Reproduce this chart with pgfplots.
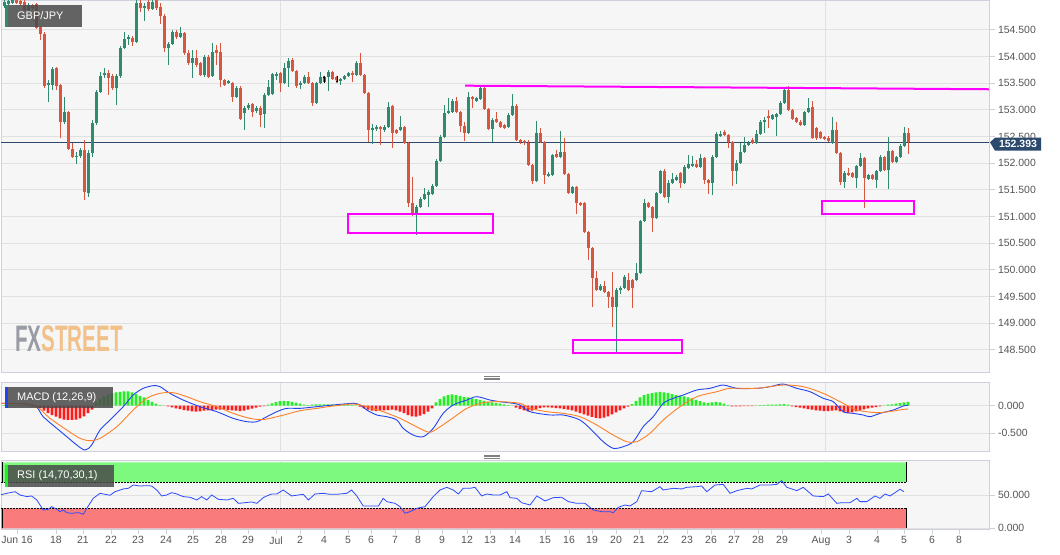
\documentclass[border=0pt]{standalone}
\usepackage{fontspec}
\setmainfont{Liberation Sans}
\usepackage{pgfplots}
\pgfplotsset{compat=1.18}
\usepackage{pgfplotstable}
\usetikzlibrary{arrows.meta}

\definecolor{panelbg}{HTML}{F6F6F6}
\definecolor{gridc}{HTML}{E1E1E1}
\definecolor{bordc}{HTML}{CDD1DD}
\definecolor{labc}{HTML}{555555}
\definecolor{cgreen}{HTML}{2F8A6E}
\definecolor{cred}{HTML}{D8553F}
\definecolor{pricec}{HTML}{2C4A6E}
\definecolor{hgreen}{HTML}{22EE22}
\definecolor{hred}{HTML}{FF1A1A}
\definecolor{macdblue}{HTML}{2244EE}
\definecolor{sigorange}{HTML}{FF7F27}
\definecolor{rsiblue}{HTML}{2A4BFF}
\definecolor{rsigreen}{HTML}{7DFA7D}
\definecolor{rsired}{HTML}{F97B7B}
\definecolor{boxc}{HTML}{4A4A4A}
\definecolor{fxgray}{HTML}{9A9CA5}
\definecolor{fxorange}{HTML}{F1C189}
\definecolor{pinkline}{HTML}{FF00FF}

\newcommand{\ticksize}{\fontsize{10.5}{12}\selectfont}

% 4h candles, i = candle index (open high low close)
\pgfplotstableread{
i o h l c
0 154.95 155.06 154.91 155.02
1 154.99 155.06 154.97 155.04
2 155.00 155.10 154.99 155.06
3 155.06 155.10 154.99 155.00
4 155.04 155.08 154.95 154.99
5 155.02 155.06 154.85 154.87
6 154.87 155.00 154.85 154.97
7 154.97 154.99 154.87 154.91
8 154.99 155.00 154.52 154.535
9 154.55 154.57 154.31 154.42
10 154.42 154.46 153.41 153.45
11 153.47 153.56 153.15 153.50
12 153.47 153.80 153.37 153.77
13 153.785 153.80 153.37 153.45
14 153.47 153.485 152.47 152.77
15 152.77 153.24 152.735 152.96
16 152.96 152.98 152.25 152.27
17 152.27 152.38 152.10 152.12
18 152.12 152.21 151.985 152.135
19 152.135 152.285 152.10 152.25
20 152.25 152.435 151.31 151.46
21 151.44 152.25 151.37 152.19
22 152.19 152.81 152.12 152.75
23 152.75 153.37 152.72 153.335
24 153.335 153.71 153.32 153.635
25 153.655 153.785 153.60 153.69
26 153.69 153.75 153.28 153.60
27 153.635 153.675 153.37 153.41
28 153.41 153.675 153.09 153.635
29 153.635 154.20 153.60 154.16
30 154.16 154.46 154.14 154.33
31 154.33 154.405 154.22 154.37
32 154.35 154.385 154.20 154.275
33 154.275 155.06 154.255 155.00
34 155.00 155.06 154.835 154.91
35 154.91 155.00 154.67 154.95
36 155.02 155.06 154.85 154.89
37 154.89 155.10 154.87 155.02
38 155.06 155.10 154.87 154.91
39 154.93 155.00 154.61 154.76
40 154.76 154.80 154.085 154.16
41 154.16 154.27 153.84 154.235
42 154.235 154.50 154.215 154.46
43 154.46 154.50 154.33 154.37
44 154.37 154.555 154.35 154.445
45 154.445 154.46 154.03 154.065
46 154.065 154.12 153.84 153.88
47 153.88 154.12 153.60 153.97
48 153.97 154.12 153.805 153.84
49 153.88 153.90 153.635 153.655
50 153.655 154.03 153.62 153.99
51 153.99 154.03 153.60 153.62
52 153.635 154.255 153.62 154.085
53 154.12 154.215 153.84 154.065
54 154.085 154.255 153.43 153.56
55 153.56 153.58 153.45 153.47
56 153.52 153.56 153.485 153.54
57 153.505 153.52 153.15 153.24
58 153.24 153.45 153.22 153.41
59 153.41 153.45 152.81 152.83
60 152.94 153.075 152.625 153.035
61 153.035 153.13 153.00 153.095
62 153.11 153.13 152.87 152.96
63 152.98 153.075 152.94 153.035
64 153.035 153.075 152.68 152.905
65 152.925 153.32 152.66 153.28
66 153.28 153.56 153.26 153.43
67 153.30 153.69 153.28 153.675
68 153.635 153.71 153.56 153.675
69 153.69 153.71 153.335 153.505
70 153.505 153.88 153.485 153.785
71 153.785 153.97 153.43 153.915
72 153.935 153.97 153.71 153.73
73 153.73 153.75 153.41 153.45
74 153.47 153.54 153.39 153.505
75 153.505 153.655 153.485 153.62
76 153.62 153.71 153.485 153.505
77 153.505 153.52 153.075 153.13
78 153.13 153.52 153.11 153.505
79 153.505 153.71 153.485 153.62
80 153.52 153.635 153.505 153.62
81 153.62 153.75 153.35 153.71
82 153.71 153.73 153.56 153.58
83 153.62 153.635 153.54 153.56
84 153.54 153.60 153.47 153.58
85 153.58 153.655 153.56 153.635
86 153.635 153.71 153.62 153.69
87 153.69 153.73 153.52 153.655
88 153.655 153.915 153.635 153.88
89 153.88 154.065 153.635 153.655
90 153.655 153.675 153.30 153.315
91 153.315 153.335 152.40 152.625
92 152.625 152.735 152.36 152.66
93 152.64 152.72 152.605 152.68
94 152.68 152.70 152.34 152.64
95 152.625 152.72 152.585 152.68
96 152.68 153.15 152.66 153.055
97 153.075 153.09 152.285 152.565
98 152.625 152.64 152.55 152.565
99 152.625 152.885 152.605 152.68
100 152.68 152.70 152.36 152.38
101 152.38 152.40 151.18 151.255
102 151.255 151.74 151.01 151.03
103 151.03 151.22 150.655 151.18
104 151.18 151.365 151.16 151.33
105 151.33 151.535 151.31 151.425
106 151.405 151.50 151.18 151.46
107 151.425 151.61 151.405 151.575
108 151.575 152.08 151.555 152.04
109 152.04 152.53 152.025 152.495
110 152.495 153.09 152.475 152.94
111 152.94 153.225 152.925 152.98
112 152.96 153.205 152.94 153.165
113 153.165 153.24 152.94 152.96
114 152.96 152.98 152.585 152.70
115 152.70 152.775 152.415 152.565
116 152.565 153.335 152.55 153.24
117 153.24 153.26 153.035 153.205
118 153.165 153.24 153.15 153.22
119 153.205 153.465 153.185 153.41
120 153.41 153.43 153.00 153.02
121 153.02 153.035 152.625 152.64
122 152.64 152.85 152.40 152.81
123 152.83 152.96 152.755 152.77
124 152.77 152.79 152.66 152.68
125 152.72 152.735 152.64 152.66
126 152.68 152.94 152.66 152.905
127 152.905 153.30 152.885 153.075
128 153.075 153.11 152.415 152.435
129 152.435 152.455 152.36 152.40
130 152.415 152.435 152.34 152.38
131 152.38 152.435 151.95 151.965
132 151.965 151.985 151.61 151.665
133 151.665 152.79 151.645 152.565
134 152.565 152.66 152.38 152.40
135 152.40 152.415 151.61 151.78
136 151.76 151.835 151.74 151.80
137 151.78 152.175 151.76 152.155
138 152.175 152.25 152.10 152.12
139 152.12 152.605 152.10 152.21
140 152.21 152.475 151.78 151.80
141 151.80 151.815 151.42 151.44
142 151.44 151.575 151.42 151.555
143 151.555 151.575 151.05 151.255
144 151.255 151.275 151.20 151.22
145 151.255 151.275 150.69 150.71
146 150.71 150.73 150.185 150.41
147 150.41 150.43 149.305 149.85
148 149.85 149.98 149.605 149.625
149 149.625 149.735 149.605 149.70
150 149.70 149.79 149.57 149.585
151 149.585 149.605 149.285 149.49
152 149.49 149.96 148.93 149.305
153 149.305 149.66 148.46 149.625
154 149.625 149.70 149.55 149.66
155 149.66 149.905 149.64 149.87
156 149.81 149.94 149.605 149.625
157 149.81 149.83 149.285 149.66
158 149.81 150.13 149.79 149.94
159 149.94 150.935 149.925 150.915
160 150.915 151.33 150.90 151.255
161 151.255 151.275 151.16 151.18
162 151.18 151.20 150.71 150.975
163 150.975 151.46 150.955 151.44
164 151.44 151.87 151.42 151.855
165 151.855 151.89 151.35 151.365
166 151.365 151.685 151.255 151.63
167 151.63 151.815 151.61 151.705
168 151.685 151.78 151.665 151.74
169 151.815 151.835 151.535 151.63
170 151.63 151.965 151.61 151.93
171 151.91 152.155 151.89 151.985
172 151.95 152.135 151.93 151.985
173 151.985 152.06 151.91 151.93
174 151.93 152.175 151.91 152.10
175 152.10 152.12 151.61 151.685
176 151.685 151.705 151.42 151.63
177 151.63 152.155 151.405 152.12
178 152.12 152.585 152.10 152.55
179 152.51 152.605 152.495 152.55
180 152.585 152.625 152.51 152.53
181 152.53 152.55 152.285 152.40
182 152.40 152.415 151.575 151.855
183 151.855 152.06 151.61 152.005
184 152.005 152.38 151.985 152.21
185 152.21 152.49 152.19 152.34
186 152.34 152.415 152.32 152.38
187 152.435 152.475 152.36 152.38
188 152.38 152.625 152.36 152.55
189 152.55 152.81 152.53 152.775
190 152.775 152.865 152.565 152.81
191 152.885 153.00 152.66 152.85
192 152.83 152.925 152.81 152.905
193 152.865 152.94 152.51 152.925
194 152.925 153.165 152.905 153.13
195 153.13 153.39 153.11 153.37
196 153.37 153.45 152.98 153.00
197 153.00 153.02 152.81 152.83
198 152.85 152.865 152.755 152.77
199 152.77 152.81 152.70 152.72
200 152.72 152.98 152.70 152.96
201 152.96 153.225 152.94 153.035
202 153.055 153.165 152.455 152.475
203 152.66 152.68 152.435 152.475
204 152.585 152.605 152.455 152.475
205 152.495 152.51 152.435 152.455
206 152.475 152.51 152.40 152.415
207 152.38 152.865 152.36 152.625
208 152.625 152.775 152.175 152.19
209 152.19 152.21 151.59 151.645
210 151.645 151.855 151.535 151.815
211 151.815 151.91 151.76 151.78
212 151.815 151.835 151.72 151.74
213 151.72 151.965 151.535 151.95
214 151.95 152.19 151.93 152.10
215 152.10 152.12 151.16 151.72
216 151.705 151.80 151.685 151.78
217 151.78 151.80 151.685 151.705
218 151.685 151.87 151.535 151.855
219 151.855 152.155 151.835 152.12
220 152.12 152.135 151.855 151.87
221 151.87 152.495 151.515 152.23
222 152.23 152.25 152.005 152.025
223 152.025 152.135 152.005 152.12
224 152.12 152.36 152.10 152.32
225 152.32 152.68 152.30 152.565
226 152.565 152.66 152.175 152.393
}\candles

% MACD line
\pgfplotstableread{
i v
-1 0.043
7.3 0.013
9.8 -0.199
13.2 -0.41
15.7 -0.561
18.2 -0.712
20.25 -0.803
21.9 -0.712
24 -0.44
26.5 -0.259
29.8 -0.017
32.3 0.194
34.8 0.315
37.3 0.363
39 0.345
41.5 0.224
44.8 0.103
49 -0.017
53.2 -0.108
57.3 -0.229
60.7 -0.289
63.2 -0.289
65.7 -0.199
68.2 -0.108
70.7 -0.048
74 -0.048
78.2 -0.017
82.3 0.013
87.3 0.043
89 0.013
90.7 -0.078
93.2 -0.168
95.7 -0.199
98.2 -0.259
99.8 -0.41
102.3 -0.531
104.8 -0.561
107.3 -0.41
109.8 -0.138
112.3 0.013
115.7 0.103
118.2 0.164
121.5 0.103
124 0.073
127.3 0.043
129 0.013
131.5 -0.108
136.5 -0.168
139.8 -0.168
144 -0.259
147.3 -0.47
149.8 -0.652
152.3 -0.772
154.8 -0.742
157.3 -0.652
159.8 -0.38
162.3 -0.199
164.8 0.043
167.3 0.134
169.8 0.194
173.2 0.285
176.5 0.315
179.8 0.375
183.2 0.315
188.2 0.315
191.5 0.345
194.8 0.393
198.2 0.315
201.5 0.254
204.8 0.134
207.3 0.073
209.8 -0.108
212.3 -0.138
214.8 -0.168
216.5 -0.199
219 -0.138
222.3 -0.078
224.8 -0.005
226 0.01
}\macdline

% signal line
\pgfplotstableread{
i v
-1 0.043
7.3 0.013
11.5 -0.229
15.7 -0.44
19 -0.591
21.5 -0.633
24 -0.591
28.2 -0.38
32.3 -0.078
35.7 0.134
39 0.224
42.3 0.236
45.7 0.164
49 0.073
53.2 -0.017
57.3 -0.138
61.5 -0.229
64.8 -0.25
68.2 -0.199
71.5 -0.138
74 -0.09
78.2 -0.048
82.3 -0.005
87.3 0.031
90.7 -0.017
94.8 -0.108
99 -0.229
102.3 -0.35
105.7 -0.47
107.3 -0.46
111.5 -0.259
115.7 -0.048
119.8 0.055
124 0.073
129 0.043
131.5 -0.048
135.7 -0.108
139.8 -0.138
144 -0.199
148.2 -0.35
152.3 -0.531
155.7 -0.652
158.2 -0.652
161.5 -0.5
164.8 -0.259
169 -0.017
173.2 0.164
178.2 0.254
181.5 0.315
188.2 0.315
194.8 0.375
199.8 0.345
204.8 0.224
209.8 0.043
213.2 -0.078
218.2 -0.126
222.3 -0.096
224.8 -0.066
226 -0.06
}\signal

% MACD histogram
\pgfplotstableread{
i v
0 0.012
1 0.012
2 0.006
3 0
4 -0.006
5 -0.006
6 -0.012
7 -0.012
8 -0.018
9 -0.048
10 -0.09
11 -0.132
12 -0.168
13 -0.198
14 -0.228
15 -0.252
16 -0.258
17 -0.258
18 -0.252
19 -0.228
20 -0.192
21 -0.132
22 -0.072
23 0.06
24 0.12
25 0.168
26 0.198
27 0.222
28 0.24
29 0.252
30 0.258
31 0.258
32 0.24
33 0.216
34 0.18
35 0.15
36 0.108
37 0.072
38 0.036
39 0.012
40 0
41 -0.012
42 -0.03
43 -0.048
44 -0.06
45 -0.078
46 -0.09
47 -0.102
48 -0.108
49 -0.102
50 -0.09
51 -0.084
52 -0.078
53 -0.072
54 -0.072
55 -0.072
56 -0.078
57 -0.084
58 -0.09
59 -0.096
60 -0.09
61 -0.072
62 -0.054
63 -0.036
64 -0.018
65 -0.006
66 0.018
67 0.042
68 0.066
69 0.084
70 0.09
71 0.084
72 0.072
73 0.054
74 0.036
75 0.018
76 0.012
77 0.018
78 0.024
79 0.024
80 0.024
81 0.024
82 0.024
83 0.018
84 0.018
85 0.018
86 0.012
87 0.012
88 0.006
89 -0.018
90 -0.048
91 -0.072
92 -0.09
93 -0.096
94 -0.09
95 -0.084
96 -0.078
97 -0.072
98 -0.084
99 -0.108
100 -0.132
101 -0.168
102 -0.192
103 -0.198
104 -0.18
105 -0.15
106 -0.108
107 -0.048
108 0.06
109 0.12
110 0.168
111 0.192
112 0.204
113 0.198
114 0.18
115 0.162
116 0.15
117 0.132
118 0.12
119 0.108
120 0.09
121 0.072
122 0.06
123 0.048
124 0.036
125 0.024
126 0.012
127 0.006
128 -0.036
129 -0.06
130 -0.084
131 -0.102
132 -0.09
133 -0.06
134 -0.042
135 -0.03
136 -0.03
137 -0.036
138 -0.042
139 -0.048
140 -0.06
141 -0.072
142 -0.084
143 -0.108
144 -0.132
145 -0.156
146 -0.18
147 -0.204
148 -0.222
149 -0.228
150 -0.216
151 -0.192
152 -0.156
153 -0.12
154 -0.084
155 -0.048
156 -0.018
157 0.03
158 0.09
159 0.15
160 0.192
161 0.216
162 0.228
163 0.24
164 0.252
165 0.24
166 0.228
167 0.21
168 0.192
169 0.18
170 0.168
171 0.15
172 0.132
173 0.108
174 0.084
175 0.06
176 0.048
177 0.06
178 0.072
179 0.06
180 0.036
181 0.012
182 -0.012
183 -0.012
184 -0.012
185 -0.006
186 -0.006
187 -0.006
188 0.006
189 0.012
190 0.012
191 0.018
192 0.018
193 0.018
194 0.024
195 0.03
196 0.018
197 -0.012
198 -0.024
199 -0.036
200 -0.048
201 -0.06
202 -0.072
203 -0.084
204 -0.09
205 -0.096
206 -0.096
207 -0.09
208 -0.084
209 -0.102
210 -0.12
211 -0.132
212 -0.12
213 -0.102
214 -0.084
215 -0.066
216 -0.048
217 -0.036
218 -0.024
219 -0.012
220 0.006
221 0.018
222 0.024
223 0.036
224 0.048
225 0.06
226 0.072
}\hist

% RSI (14)
\pgfplotstableread{
i v
-1 50.5
0.67 53.0
2.75 55.5
4 50.5
5.67 48.0
6.9 49.0
8.2 42.9
9.8 27.8
11.1 28.8
11.9 32.8
13.2 28.8
14 25.2
14.8 27.8
15.7 23.7
16.9 22.7
18.6 23.7
19.8 21.2
20.7 30.3
22.3 45.4
24 53.0
26.5 50.0
27.75 55.5
29.8 59.6
31.1 60.6
32.3 65.6
34 64.1
35.7 64.6
36.9 64.1
38.2 58.0
39.4 49.0
40.7 50.5
41.9 54.0
43.2 52.0
44.8 48.0
46.5 47.0
48.2 42.9
49.4 48.0
50.7 42.9
51.9 50.5
53.6 43.9
55.7 42.9
57.3 45.4
58.6 37.8
60.25 38.8
61.9 39.9
63.2 37.8
64.8 46.4
65.7 49.0
66.9 52.0
68.2 52.0
69.8 58.0
71.9 49.0
73.6 50.5
74.8 51.5
76.1 42.9
77.75 52.0
79.8 53.0
81.5 51.5
83.2 51.5
85.7 53.0
86.9 58.0
88.2 49.0
89.8 33.8
91.5 33.8
93.6 33.8
94.8 45.4
95.7 40.4
97.75 37.8
99 32.8
100.25 22.7
101.5 25.2
103.2 30.3
105.25 32.8
107.3 48.0
109 58.0
110.7 62.1
112.3 58.0
113.6 52.0
114.8 60.6
116.5 60.6
117.75 62.1
119.4 49.0
120.7 52.0
122.3 50.5
124 50.5
125.7 55.5
126.5 46.4
128.2 45.4
129.4 38.8
131.5 35.3
133.2 49.0
135.25 41.4
137.3 46.4
139.4 47.0
141.1 40.4
143.2 37.8
145.25 37.8
147.3 27.8
149.4 25.2
151.5 25.2
152.3 23.7
153.6 31.8
155.25 35.3
156.5 33.8
158.2 40.4
159.4 57.0
161.9 55.5
164 63.1
164.8 58.0
167.3 60.6
169.4 59.6
170.7 62.1
173.2 63.1
174.4 64.1
175.7 55.5
177.75 65.6
179.8 66.6
181.5 53.0
183.2 57.0
185.7 60.6
186.9 59.6
189 65.6
191.5 65.6
193.2 66.6
194.4 72.2
195.7 62.1
198.2 57.0
199.8 62.1
202.3 49.0
204.8 48.0
206.1 52.0
208.2 37.8
209.4 38.8
211.5 38.8
213.2 45.4
214 40.4
215.7 40.4
217.75 49.0
219 45.4
220.25 52.0
221.5 49.0
222.75 54.0
224 59.1
225 55.5
}\rsi

\pgfplotsset{
  panel/.style={
    scale only axis, width=988bp, height=69bp,
    xmin=-0.75, xmax=246.25,
    axis background/.style={fill=panelbg},
    axis line style={draw=bordc, line width=0.8bp},
    grid style={draw=gridc, line width=0.8bp},
    ymajorgrids,
    ytick pos=right, yticklabel pos=right,
    tick align=outside, major tick length=5.5bp,
    ytick style={draw=bordc, line width=0.8bp},
    scaled y ticks=false,
    yticklabel style={font=\ticksize, text=labc,
      /pgf/number format/.cd, fixed, fixed zerofill, precision=3,
      assume math mode=true},
  },
  monthgrid/.style={xtick={69,205.25}, xticklabels={}, xmajorgrids,
    xtick style={draw=none}},
  wick/.style={draw=none, mark=none, forget plot,
    error bars/.cd, y dir=both, y explicit, error mark=none,
    error bar style={draw=#1, line width=1bp}},
  body/.style={draw=none, mark=none, forget plot,
    error bars/.cd, y dir=both, y explicit, error mark=none,
    error bar style={draw=#1, line width=3bp}},
}

\begin{document}
\begin{tikzpicture}[x=1bp,y=1bp]
\path[use as bounding box] (0,0) rectangle (1060,555);
\fill[white] (0,0) rectangle (1060,555);

% ---- price panel
\begin{axis}[panel, monthgrid, at={(1bp,183bp)}, anchor=south west,
  height=372bp, ymin=148.085, ymax=155.06,
  ytick={148.5,149,149.5,150,150.5,151,151.5,152,152.5,153,153.5,154,154.5}]
\addplot[pricec, line width=1bp, forget plot]
  coordinates {(-0.75,152.393) (246.25,152.393)};
% up candles
\addplot[restrict expr to domain={\thisrow{c}-\thisrow{o}}{0:10}, wick=cgreen]
  table[x=i, y expr={(\thisrow{h}+\thisrow{l})/2},
        y error expr={(\thisrow{h}-\thisrow{l})/2}] {\candles};
\addplot[restrict expr to domain={\thisrow{c}-\thisrow{o}}{0:10}, body=cgreen]
  table[x=i, y expr={(\thisrow{o}+\thisrow{c})/2},
        y error expr={max(abs(\thisrow{c}-\thisrow{o})/2,0.009)}] {\candles};
% down candles
\addplot[restrict expr to domain={\thisrow{c}-\thisrow{o}}{-10:-0.0001}, wick=cred]
  table[x=i, y expr={(\thisrow{h}+\thisrow{l})/2},
        y error expr={(\thisrow{h}-\thisrow{l})/2}] {\candles};
\addplot[restrict expr to domain={\thisrow{c}-\thisrow{o}}{-10:-0.0001}, body=cred]
  table[x=i, y expr={(\thisrow{o}+\thisrow{c})/2},
        y error expr={max(abs(\thisrow{c}-\thisrow{o})/2,0.009)}] {\candles};
% drawn annotations
\draw[pinkline, line width=2bp] (axis cs:115.25,153.453) -- (axis cs:246.25,153.386);
\draw[pinkline, line width=2bp] (axis cs:86.1,150.697) rectangle (axis cs:122.3,151.042);
\draw[pinkline, line width=2bp] (axis cs:142.2,148.436) rectangle (axis cs:169.4,148.685);
\draw[pinkline, line width=2bp] (axis cs:204.4,151.05) rectangle (axis cs:227.6,151.297);
\draw[black, line width=0.8bp, -{Stealth[length=2.5bp,width=2.5bp]}]
  (axis cs:80,153.50) -- (axis cs:80,153.64);
\draw[black, line width=0.8bp, -{Stealth[length=2.5bp,width=2.5bp]}]
  (axis cs:83.25,153.64) -- (axis cs:83.25,153.50);
\end{axis}

% ---- MACD panel
\begin{axis}[panel, monthgrid, at={(1bp,104bp)}, anchor=south west,
  ymin=-0.82, ymax=0.43, ytick={-0.5,0}]
\addplot[ybar, bar width=0.72, fill=hgreen, draw=none, restrict y to domain=0:1]
  table[x=i, y=v] {\hist};
\addplot[ybar, bar width=0.72, fill=hred, draw=none, restrict y to domain=-1:0]
  table[x=i, y=v] {\hist};
\addplot[macdblue, line width=0.9bp, smooth, tension=0.5] table[x=i, y=v] {\macdline};
\addplot[sigorange, line width=0.9bp, smooth, tension=0.5] table[x=i, y=v] {\signal};
\end{axis}

% ---- RSI panel
\begin{axis}[panel, at={(1bp,26bp)}, anchor=south west,
  ymin=-1.06, ymax=103.5, ytick={0,50},
  xtick pos=bottom,
  xtick={3.25,13,19.75,26.75,33.5,40.5,47.25,54.25,61,68,74,80,86,91.75,97.75,103.5,109.5,115.75,121.5,127.75,135.25,141.25,147,153,158.75,164.75,170.75,176.75,182.5,188.5,194.5,204.25,211.25,218.25,225,232,238.75},
  xticklabels={Jun 16,18,21,22,23,24,25,28,29,Jul,2,4,5,6,7,8,9,12,13,14,15,16,19,20,21,22,23,26,27,28,29,Aug,3,4,5,6,8},
  xticklabel style={font=\ticksize, text=labc, yshift=1.5bp},
  xtick style={draw=bordc, line width=0.8bp},
  extra x ticks={69,205.25}, extra x tick labels={},
  extra x tick style={grid=major, major tick length=0pt}]
\addplot[fill=rsigreen, draw=none]
  coordinates {(-0.75,70) (225.5,70) (225.5,100) (-0.75,100) (-0.75,70)};
\addplot[fill=rsired, draw=none]
  coordinates {(-0.75,0) (225.5,0) (225.5,30) (-0.75,30) (-0.75,0)};
\addplot[black, line width=0.7bp, dash pattern=on 2bp off 1bp]
  coordinates {(-0.75,70) (225.5,70)};
\addplot[black, line width=0.7bp, dash pattern=on 2bp off 1bp]
  coordinates {(-0.75,30) (225.5,30)};
\addplot[black, line width=0.8bp] coordinates {(225.5,70) (225.5,100)};
\addplot[black, line width=0.8bp] coordinates {(225.5,0) (225.5,30)};
\addplot[black, line width=0.8bp] coordinates {(-0.5,70) (-0.5,100)};
\addplot[black, line width=0.8bp] coordinates {(-0.5,0) (-0.5,30)};
\addplot[rsiblue, line width=0.8bp] table[x=i, y=v] {\rsi};
\end{axis}

% ---- current price tag
\fill[pricec] (990,412.6) -- (995,417.4) -- (1041,417.4) -- (1041,404.3) -- (995,404.3) -- cycle;
\node[text=white, font=\bfseries\ticksize, inner sep=0] at (1018,410.6) {152.393};

% ---- panel labels
\fill[boxc, fill opacity=0.85] (5,528) rectangle (82,550);
\fill[cgreen] (5,528) rectangle (7.5,550);
\node[anchor=west, text=white, font=\fontsize{11}{13}\selectfont, inner sep=0] at (17,539) {GBP/JPY};
\fill[boxc, fill opacity=0.85] (5,147) rectangle (113,168);
\fill[macdblue] (5,147) rectangle (7.5,168);
\node[anchor=west, text=white, font=\fontsize{11}{13}\selectfont, inner sep=0] at (17,157.5) {MACD (12,26,9)};
\fill[boxc, fill opacity=0.85] (5,68) rectangle (114,90);
\fill[hgreen] (5,68) rectangle (7.5,90);
\node[anchor=west, text=white, font=\fontsize{11}{13}\selectfont, inner sep=0] at (17,79) {RSI (14,70,30,1)};

% ---- watermark
\node[anchor=south west, inner sep=0, xscale=0.56,
  font=\bfseries\fontsize{37}{37}\selectfont] at (15,203)
  {\textcolor{fxgray}{FX}\textcolor{fxorange}{STREET}};

% ---- panel resize handles
\foreach \yy in {175.5,177,178.5,97,98.5,100}
  \draw[gray, line width=0.6bp] (484,\yy) -- (500,\yy);
\end{tikzpicture}
\end{document}
